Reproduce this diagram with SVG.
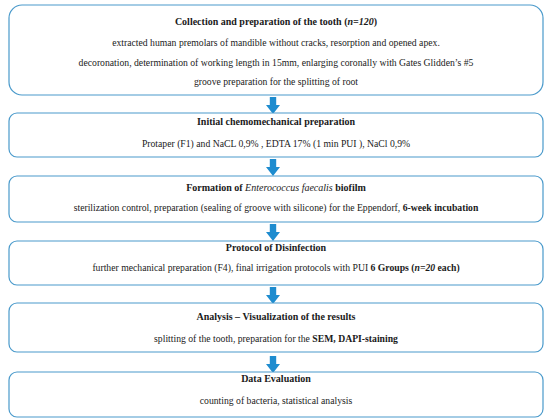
<svg xmlns="http://www.w3.org/2000/svg" width="550" height="420" viewBox="0 0 550 420">
<defs>
<style>
.box{fill:#ffffff;stroke:#4a9acb;stroke-width:1.2}
.t{font-family:"Liberation Serif","DejaVu Serif",serif;font-size:10px;fill:#1a1a1a;text-anchor:middle;font-weight:bold}
.s{font-family:"Liberation Serif","DejaVu Serif",serif;font-size:9.7px;fill:#1a1a1a;text-anchor:middle}
.arr{fill:#1e8ccf}
</style>
<path id="ar" d="M-3.2,0 H3.2 V8 H7 L0,17 L-7,8 H-3.2 Z"/>
</defs>
<rect width="550" height="420" fill="#ffffff"/>
<g id="connectors" class="arr">
<use href="#ar" x="273" y="97"/>
<use href="#ar" x="273" y="159"/>
<use href="#ar" x="273" y="224"/>
<use href="#ar" x="273" y="287"/>
<use href="#ar" x="273" y="356"/>
</g>
<g id="n1">
<rect class="box" x="9" y="5" width="534" height="90" rx="13"/>
<text class="t" x="276" y="25">Collection and preparation of the tooth (<tspan font-style="italic">n=120</tspan>)</text>
<text class="s" x="276" y="46">extracted  human premolars of mandible without cracks, resorption and opened apex.</text>
<text class="s" x="276" y="66">decoronation,  determination of  working length in 15mm, enlarging coronally with Gates Glidden’s #5</text>
<text class="s" x="276" y="85">groove preparation for the splitting of root</text>
</g>
<g id="n2">
<rect class="box" x="9" y="113" width="534" height="44" rx="8"/>
<text class="t" x="276" y="125">Initial chemomechanical preparation</text>
<text class="s" x="276" y="147">Protaper (F1) and NaCL 0,9% , EDTA 17% (1 min PUI ), NaCl 0,9%</text>
</g>
<g id="n3">
<rect class="box" x="9" y="176" width="534" height="46" rx="8"/>
<text class="t" x="276" y="191">Formation of <tspan font-style="italic" font-weight="normal">Enterococcus faecalis</tspan> biofilm</text>
<text class="s" x="276" y="211">sterilization control, preparation (sealing of groove with silicone) for the Eppendorf, <tspan font-weight="bold">6-week incubation</tspan></text>
</g>
<g id="n4">
<rect class="box" x="9" y="241" width="534" height="44" rx="8"/>
<text class="t" x="276" y="251">Protocol of Disinfection</text>
<text class="s" x="276" y="271">further mechanical preparation (F4),  final irrigation protocols with PUI <tspan font-weight="bold">6 Groups  (<tspan font-style="italic">n=20</tspan> each)</tspan></text>
</g>
<g id="n5">
<rect class="box" x="9" y="303" width="534" height="49" rx="8"/>
<text class="t" x="276" y="320">Analysis – Visualization of the results</text>
<text class="s" x="276" y="342">splitting of the tooth, preparation for the <tspan font-weight="bold">SEM, DAPI-staining</tspan></text>
</g>
<g id="n6">
<rect class="box" x="9" y="372" width="534" height="45" rx="8"/>
<text class="t" x="276" y="382">Data Evaluation</text>
<text class="s" x="276" y="404">counting of bacteria, statistical analysis</text>
</g>
</svg>
